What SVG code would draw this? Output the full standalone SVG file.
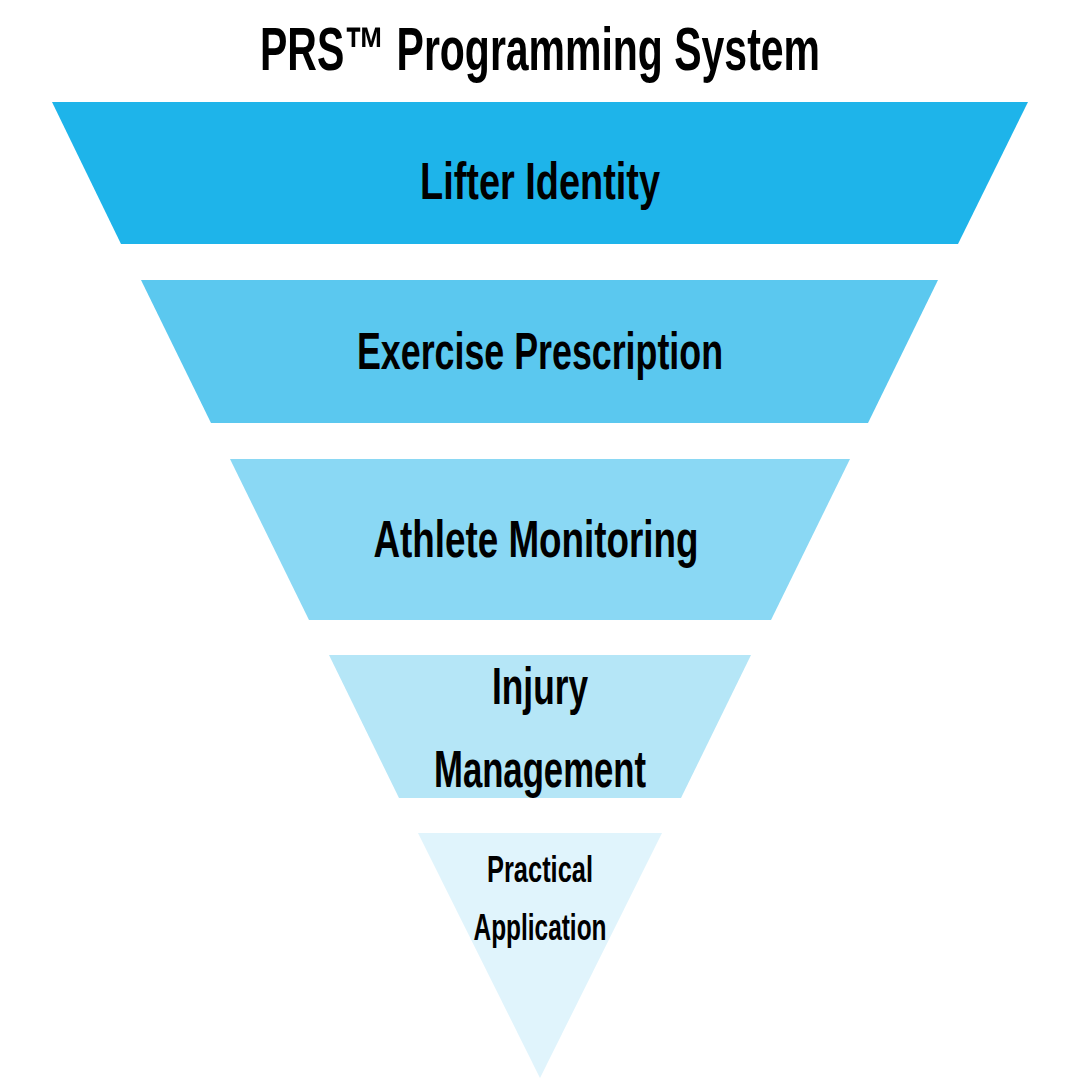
<svg xmlns="http://www.w3.org/2000/svg" width="1080" height="1080" viewBox="0 0 1080 1080">
<style>
text{font-family:"Liberation Sans Narrow","Liberation Sans",sans-serif;font-weight:bold;fill:#000;text-anchor:middle}
.l{font-size:52px}.s{font-size:36px}
</style>
<rect width="1080" height="1080" fill="#fff"/>
<text x="540" y="70" style="font-size:62px" textLength="560" lengthAdjust="spacingAndGlyphs">PRS™ Programming System</text>
<g id="n1"><polygon points="52,102 1028,102 958,244 121,244" fill="#1eb4ea"/><text class="l" x="540" y="199" textLength="240" lengthAdjust="spacingAndGlyphs">Lifter Identity</text></g>
<g id="n2"><polygon points="141,280 938,280 868,423 211,423" fill="#5bc8ef"/><text class="l" x="540" y="369" textLength="366" lengthAdjust="spacingAndGlyphs">Exercise Prescription</text></g>
<g id="n3"><polygon points="230,459 850,459 771,620 309,620" fill="#8ad8f4"/><text class="l" x="536" y="557" textLength="325" lengthAdjust="spacingAndGlyphs">Athlete Monitoring</text></g>
<g id="n4"><polygon points="329,655 751,655 681,798 399,798" fill="#b5e6f7"/><text class="l" x="540" y="704" textLength="96" lengthAdjust="spacingAndGlyphs">Injury</text><text class="l" x="540" y="787" textLength="212" lengthAdjust="spacingAndGlyphs">Management</text></g>
<g id="n5"><polygon points="418,833 662,833 540,1078" fill="#e0f4fc"/><text class="s" x="540" y="882" textLength="106" lengthAdjust="spacingAndGlyphs">Practical</text><text class="s" x="540" y="940" textLength="133" lengthAdjust="spacingAndGlyphs">Application</text></g>
<g id="connectors"/>
</svg>
